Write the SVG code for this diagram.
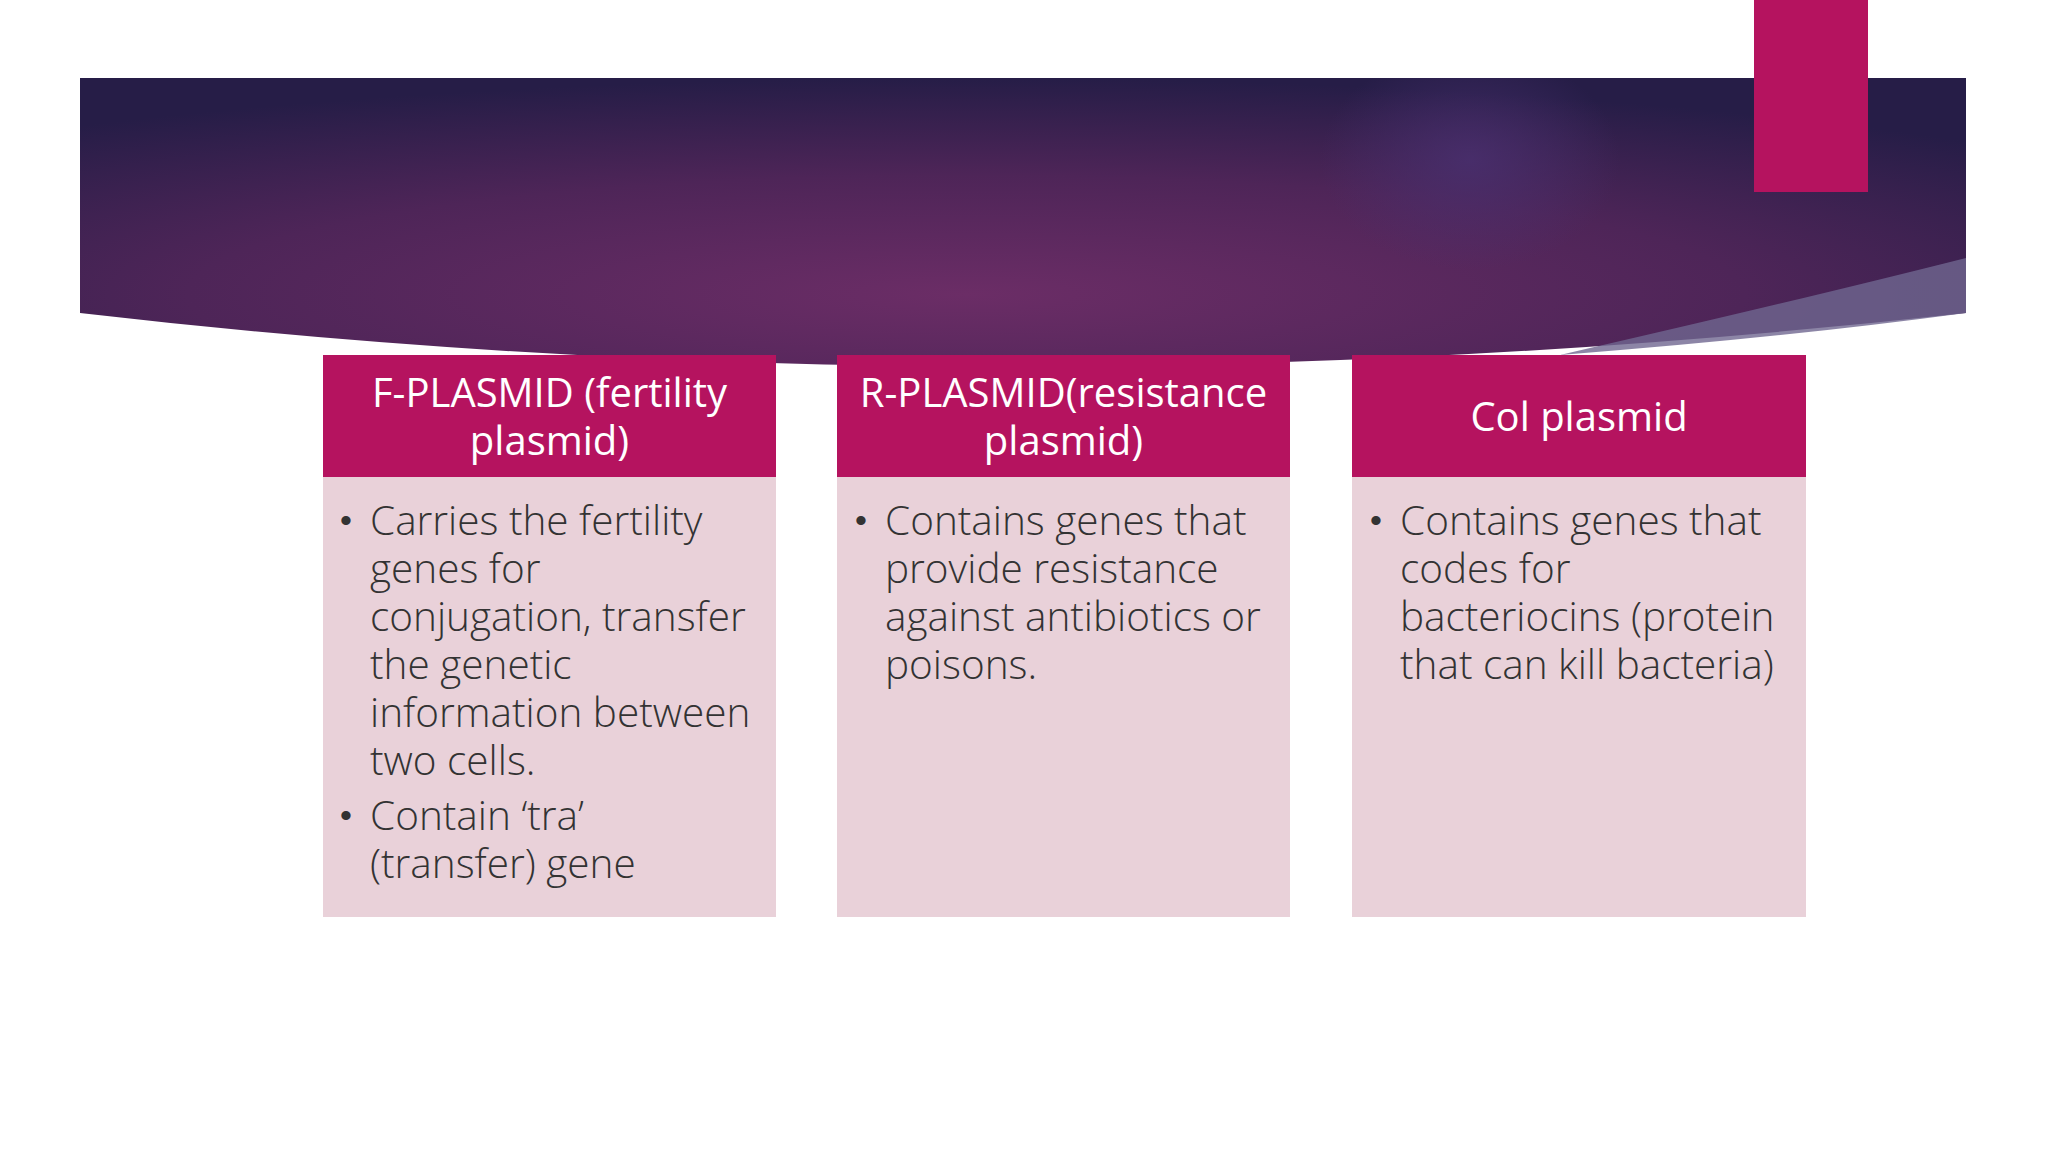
<svg xmlns="http://www.w3.org/2000/svg" width="2048" height="1152" viewBox="0 0 2048 1152">
<defs>
<radialGradient id="bg" cx="0.47" cy="0.75" r="0.75">
<stop offset="0" stop-color="#6b2d66"/>
<stop offset="0.55" stop-color="#4e2558"/>
<stop offset="1" stop-color="#261d47"/>
</radialGradient>
<radialGradient id="glow" cx="0.5" cy="0.5" r="0.5">
<stop offset="0" stop-color="#4a3070" stop-opacity="0.8"/>
<stop offset="1" stop-color="#4a3070" stop-opacity="0"/>
</radialGradient>
<clipPath id="bn"><path d="M80 78 H1966 V313 Q1000 420 80 313 Z"/></clipPath>
<style>
.hd{fill:#b5135f}
.bd{fill:#e9d1d9}
.ht{font-family:"Open Sans","Liberation Sans",sans-serif;font-size:40px;fill:#fff;text-anchor:middle}
.bt{font-family:"Open Sans","Liberation Sans",sans-serif;font-weight:300;font-size:40.5px;fill:#333}
.bu{font-family:"Liberation Sans",sans-serif;font-size:34px;fill:#333}
</style>
</defs>
<rect width="2048" height="1152" fill="#fff"/>
<path d="M80 78 H1966 V313 Q1000 420 80 313 Z" fill="url(#bg)"/>
<ellipse cx="1470" cy="160" rx="150" ry="110" fill="url(#glow)" clip-path="url(#bn)"/>
<path d="M1560 355 Q1800 300 1966 258 V313 Q1780 338 1560 355 Z" fill="#6f6690" opacity="0.8"/>
<rect x="1754" y="0" width="114" height="192" fill="#b5135f"/>
<g id="node1">
<rect class="hd" x="323" y="355" width="453" height="122"/>
<rect class="bd" x="323" y="477" width="453" height="440"/>
<text class="ht" x="549.5" y="407">F-PLASMID (fertility</text>
<text class="ht" x="549.5" y="455">plasmid)</text>
<text class="bu" x="340" y="532">•</text>
<text class="bt"><tspan x="370" y="535">Carries the fertility</tspan><tspan x="370" y="583">genes for</tspan><tspan x="370" y="631">conjugation, transfer</tspan><tspan x="370" y="679">the genetic</tspan><tspan x="370" y="727">information between</tspan><tspan x="370" y="775">two cells.</tspan></text>
<text class="bu" x="340" y="827">•</text>
<text class="bt"><tspan x="370" y="830">Contain ‘tra’</tspan><tspan x="370" y="878">(transfer) gene</tspan></text>
</g>
<g id="node2">
<rect class="hd" x="837" y="355" width="453" height="122"/>
<rect class="bd" x="837" y="477" width="453" height="440"/>
<text class="ht" x="1063.5" y="407">R-PLASMID(resistance</text>
<text class="ht" x="1063.5" y="455">plasmid)</text>
<text class="bu" x="855" y="532">•</text>
<text class="bt"><tspan x="885" y="535">Contains genes that</tspan><tspan x="885" y="583">provide resistance</tspan><tspan x="885" y="631">against antibiotics or</tspan><tspan x="885" y="679">poisons.</tspan></text>
</g>
<g id="node3">
<rect class="hd" x="1352" y="355" width="454" height="122"/>
<rect class="bd" x="1352" y="477" width="454" height="440"/>
<text class="ht" x="1579" y="431">Col plasmid</text>
<text class="bu" x="1370" y="532">•</text>
<text class="bt"><tspan x="1400" y="535">Contains genes that</tspan><tspan x="1400" y="583">codes for</tspan><tspan x="1400" y="631">bacteriocins (protein</tspan><tspan x="1400" y="679">that can kill bacteria)</tspan></text>
</g>
<g id="connectors"/>
</svg>
